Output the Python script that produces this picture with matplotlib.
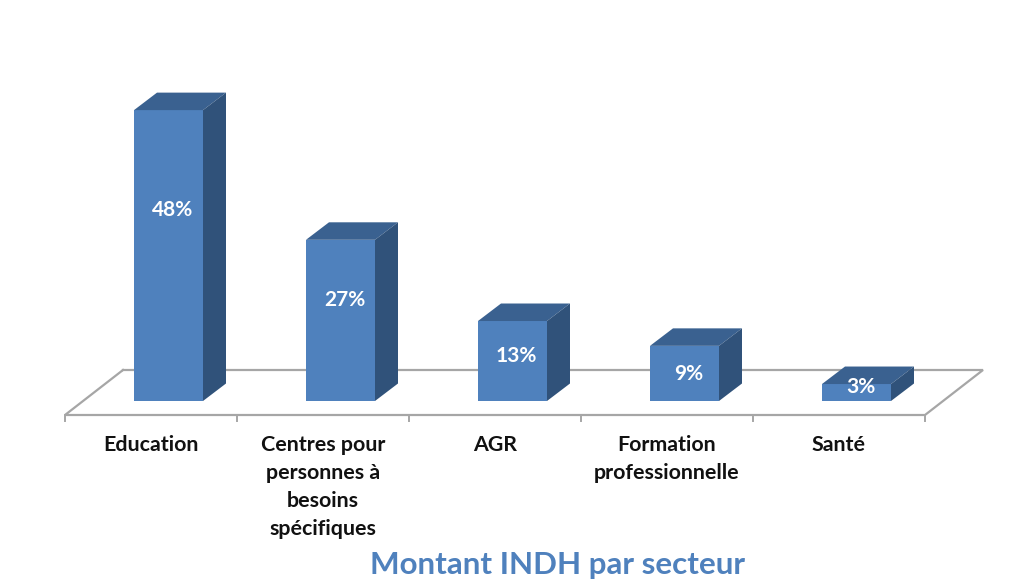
import matplotlib
matplotlib.use("Agg")
import matplotlib.pyplot as plt
from matplotlib.patches import Polygon

categories = ["Education", "Centres pour\npersonnes à\nbesoins\nspécifiques", "AGR",
              "Formation\nprofessionnelle", "Santé"]
bar_heights = [48.0, 26.6, 13.2, 9.1, 2.8]
value_labels = ["48%", "27%", "13%", "9%", "3%"]
title = "Montant INDH par secteur"

W, H = 1024, 586
PX_X = 172.0      # pixels per category
PX_Y = 6.06       # pixels per percent
X0, Y0 = 65, 401  # pixel of x=0, y=0

FRONT = "#4f81bd"
TOP = "#3a6190"
SIDE = "#30527a"
GRID = "#a6a6a6"
FONT = "Lato"

fig = plt.figure(figsize=(W / 100, H / 100), dpi=100, facecolor="white")
ax = fig.add_axes([0, 0, 1, 1])
ax.set_xlim(-X0 / PX_X, (W - X0) / PX_X)
ax.set_ylim((Y0 - H) / PX_Y, Y0 / PX_Y)
ax.axis("off")

dx = 23 / PX_X      # bar depth
dy = 17.5 / PX_Y
fl_y = -14 / PX_Y   # front floor edge
bk_x = 58 / PX_X    # floor depth
bk_y = 45 / PX_Y
n = len(categories)

# floor
ax.plot([bk_x, 0, n, n + bk_x, bk_x], [fl_y + bk_y, fl_y, fl_y, fl_y + bk_y, fl_y + bk_y],
        color=GRID, lw=1.6, zorder=1, solid_joinstyle="miter")
for i in range(n + 1):
    ax.plot([i, i], [fl_y, fl_y - 6 / PX_Y], color=GRID, lw=1.4, zorder=1)

# bars
bw = 69 / PX_X
off = 17.5 / PX_X
for i, (h, lab, cat) in enumerate(zip(bar_heights, value_labels, categories)):
    c = i + 0.5 + off
    l, r = c - bw / 2, c + bw / 2
    ax.bar(c, h, width=bw, color=FRONT, edgecolor="none", zorder=3)
    ax.add_patch(Polygon([(l, h), (r, h), (r + dx, h + dy), (l + dx, h + dy)],
                         closed=True, fc=TOP, ec="none", zorder=3))
    ax.add_patch(Polygon([(r, 0), (r + dx, dy), (r + dx, h + dy), (r, h)],
                         closed=True, fc=SIDE, ec="none", zorder=3))
    ax.text(c + 4 / PX_X, max(0.695 * h - 1.83, 2.3), lab, color="white",
            ha="center", va="center", fontsize=15, fontweight="bold", family=FONT, zorder=4)
    ax.text(i + 0.5, -34 / PX_Y, cat, color="#111111", ha="center", va="top",
            fontsize=15.4, fontweight="bold", family=FONT, linespacing=1.5)

ax.text((558 - X0) / PX_X, (Y0 - 565) / PX_Y, title, color=FRONT, ha="center", va="center",
        fontsize=22.6, fontweight="bold", family=FONT)

fig.savefig("out.png", dpi=100, facecolor="white")
